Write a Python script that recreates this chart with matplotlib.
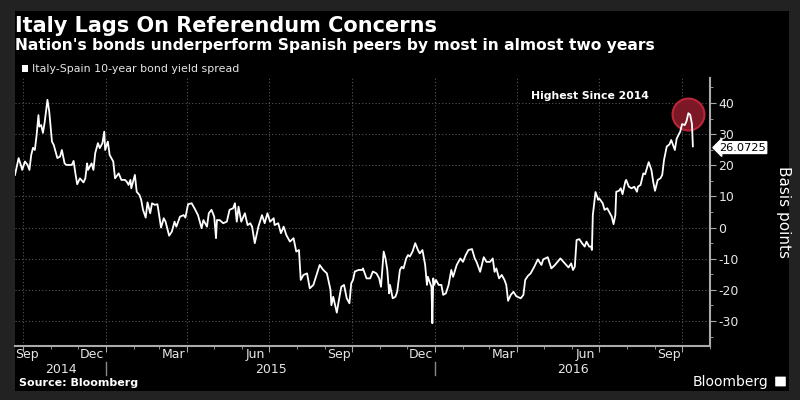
import numpy as np
import pandas as pd
import matplotlib
matplotlib.use("Agg")
import matplotlib.pyplot as plt
import matplotlib.dates as mdates
from matplotlib.patches import Rectangle, FancyBboxPatch
from matplotlib.lines import Line2D
from matplotlib.ticker import MultipleLocator
from matplotlib.transforms import blended_transform_factory

plt.rcParams["axes.unicode_minus"] = False

# Italy-Spain 10-year bond yield spread, basis points
dates = [
    "2014-09-22", "2014-09-26", "2014-09-29", "2014-09-30", "2014-10-03", "2014-10-06",
    "2014-10-08", "2014-10-10", "2014-10-12", "2014-10-14", "2014-10-16", "2014-10-18",
    "2014-10-19", "2014-10-21", "2014-10-23", "2014-10-25", "2014-10-28", "2014-10-30",
    "2014-11-02", "2014-11-04", "2014-11-08", "2014-11-11", "2014-11-13", "2014-11-16",
    "2014-11-18", "2014-11-24", "2014-11-26", "2014-11-28", "2014-11-30", "2014-12-03",
    "2014-12-07", "2014-12-09", "2014-12-11", "2014-12-12", "2014-12-14", "2014-12-16",
    "2014-12-18", "2014-12-20", "2014-12-23", "2014-12-25", "2014-12-28", "2014-12-30",
    "2014-12-31", "2015-01-03", "2015-01-05", "2015-01-09", "2015-01-11", "2015-01-15",
    "2015-01-18", "2015-01-22", "2015-01-24", "2015-01-26", "2015-01-28", "2015-01-29",
    "2015-01-31", "2015-02-02", "2015-02-04", "2015-02-07", "2015-02-09", "2015-02-11",
    "2015-02-14", "2015-02-16", "2015-02-19", "2015-02-21", "2015-02-24", "2015-02-27",
    "2015-02-28", "2015-03-03", "2015-03-06", "2015-03-08", "2015-03-12", "2015-03-15",
    "2015-03-18", "2015-03-20", "2015-03-24", "2015-03-28", "2015-03-30", "2015-04-02",
    "2015-04-06", "2015-04-10", "2015-04-13", "2015-04-15", "2015-04-17", "2015-04-19",
    "2015-04-23", "2015-04-25", "2015-04-28", "2015-05-01", "2015-05-03", "2015-05-04",
    "2015-05-07", "2015-05-11", "2015-05-15", "2015-05-18", "2015-05-22", "2015-05-24",
    "2015-05-26", "2015-05-28", "2015-05-31", "2015-06-04", "2015-06-07", "2015-06-10",
    "2015-06-12", "2015-06-15", "2015-06-19", "2015-06-23", "2015-06-26", "2015-06-29",
    "2015-07-02", "2015-07-06", "2015-07-07", "2015-07-11", "2015-07-14", "2015-07-17",
    "2015-07-20", "2015-07-24", "2015-07-28", "2015-07-31", "2015-08-03", "2015-08-05",
    "2015-08-08", "2015-08-12", "2015-08-15", "2015-08-19", "2015-08-23", "2015-08-26",
    "2015-08-30", "2015-09-03", "2015-09-07", "2015-09-08", "2015-09-10", "2015-09-14",
    "2015-09-16", "2015-09-19", "2015-09-22", "2015-09-25", "2015-09-28", "2015-09-30",
    "2015-10-02", "2015-10-04", "2015-10-08", "2015-10-12", "2015-10-13", "2015-10-17",
    "2015-10-21", "2015-10-24", "2015-10-28", "2015-10-31", "2015-11-02", "2015-11-05",
    "2015-11-07", "2015-11-09", "2015-11-11", "2015-11-12", "2015-11-15", "2015-11-18",
    "2015-11-20", "2015-11-23", "2015-11-25", "2015-11-27", "2015-11-30", "2015-12-02",
    "2015-12-04", "2015-12-07", "2015-12-10", "2015-12-13", "2015-12-15", "2015-12-18",
    "2015-12-21", "2015-12-23", "2015-12-24", "2015-12-28", "2015-12-29", "2015-12-30",
    "2015-12-31", "2016-01-02", "2016-01-05", "2016-01-08", "2016-01-10", "2016-01-13",
    "2016-01-16", "2016-01-19", "2016-01-21", "2016-01-25", "2016-01-29", "2016-02-01",
    "2016-02-04", "2016-02-07", "2016-02-11", "2016-02-14", "2016-02-16", "2016-02-20",
    "2016-02-24", "2016-02-27", "2016-03-02", "2016-03-05", "2016-03-07", "2016-03-09",
    "2016-03-12", "2016-03-15", "2016-03-18", "2016-03-20", "2016-03-22", "2016-03-25",
    "2016-03-28", "2016-03-31", "2016-04-05", "2016-04-08", "2016-04-10", "2016-04-13",
    "2016-04-16", "2016-04-20", "2016-04-24", "2016-04-28", "2016-04-30", "2016-05-05",
    "2016-05-09", "2016-05-13", "2016-05-19", "2016-05-24", "2016-05-28", "2016-05-31",
    "2016-06-02", "2016-06-04", "2016-06-06", "2016-06-09", "2016-06-12", "2016-06-15",
    "2016-06-17", "2016-06-20", "2016-06-22", "2016-06-23", "2016-06-24", "2016-06-27",
    "2016-06-30", "2016-07-01", "2016-07-05", "2016-07-07", "2016-07-10", "2016-07-13",
    "2016-07-15", "2016-07-17", "2016-07-19", "2016-07-20", "2016-07-23", "2016-07-25",
    "2016-07-27", "2016-07-30", "2016-07-31", "2016-08-03", "2016-08-06", "2016-08-09",
    "2016-08-12", "2016-08-13", "2016-08-16", "2016-08-19", "2016-08-21", "2016-08-25",
    "2016-08-28", "2016-08-30", "2016-09-01", "2016-09-04", "2016-09-07", "2016-09-09",
    "2016-09-11", "2016-09-14", "2016-09-17", "2016-09-19", "2016-09-21", "2016-09-23",
    "2016-09-25", "2016-09-27", "2016-09-29", "2016-10-01", "2016-10-04", "2016-10-06",
    "2016-10-08", "2016-10-10", "2016-10-12", "2016-10-13",
]
spread = [
    16.9, 22.3, 19.6, 18.5, 21.2, 20.1,
    18.5, 23.3, 25.6, 24.9, 29.7, 36.1,
    32.4, 32.9, 30.4, 34.0, 41.0, 37.2,
    27.6, 26.5, 22.3, 22.8, 24.9, 20.6,
    20.1, 20.1, 21.4, 17.4, 13.9, 15.8,
    14.5, 15.8, 20.6, 18.5, 19.6, 20.6,
    18.5, 23.9, 27.1, 25.5, 27.1, 30.8,
    24.9, 27.6, 23.3, 21.2, 15.8, 17.4,
    15.3, 15.3, 14.7, 13.7, 15.3, 12.6,
    14.7, 16.9, 11.5, 10.5, 8.9, 5.7,
    3.2, 8.1, 4.6, 7.8, 7.3, 7.5,
    5.7, 0.0, 3.0, 1.9, -2.6, -1.3,
    1.9, 0.3, 3.5, 4.0, 3.2, 7.5,
    7.8, 5.7, 4.0, 1.9, -0.2, 2.4,
    0.3, 4.6, 5.7, 3.5, -3.4, 2.4,
    2.4, 1.4, 1.9, 5.7, 6.2, 7.8,
    1.9, 6.7, 1.9, 4.6, 0.8, 1.4,
    0.3, -5.0, 0.3, 4.0, 1.4, 4.6,
    1.9, 3.0, 0.8, 1.4, -1.8, 0.3,
    -2.4, -4.5, -3.4, -7.7, -7.2, -16.8,
    -15.2, -14.7, -19.5, -18.4, -14.7, -12.0,
    -13.6, -14.7, -20.0, -24.9, -22.2, -27.3,
    -23.8, -19.0, -18.4, -22.7, -24.3, -17.9,
    -16.8, -14.1, -13.6, -13.6, -13.1, -16.3,
    -16.3, -14.1, -14.7, -16.3, -19.0, -7.7,
    -9.9, -13.6, -21.1, -18.4, -22.7, -22.2,
    -20.6, -13.6, -12.6, -13.1, -9.9, -8.8,
    -9.3, -7.7, -5.0, -7.2, -8.3, -7.2,
    -12.0, -18.4, -15.8, -19.0, -30.7, -16.3,
    -18.4, -16.8, -18.4, -18.4, -21.6, -21.1,
    -18.4, -13.6, -15.8, -12.0, -9.9, -11.0,
    -8.8, -7.2, -6.9, -9.9, -11.0, -14.2,
    -9.5, -11.0, -11.0, -9.9, -14.2, -13.1,
    -16.3, -15.2, -16.8, -18.4, -23.5, -21.6,
    -20.6, -22.0, -22.7, -21.6, -16.8, -15.5,
    -14.7, -12.6, -10.2, -12.0, -10.2, -9.5,
    -13.1, -12.0, -9.9, -11.5, -12.8, -11.5,
    -13.6, -12.6, -4.0, -3.7, -5.0, -6.1,
    -4.5, -6.1, -6.1, -7.2, 4.0, 11.4,
    8.9, 9.4, 7.8, 5.7, 6.2, 4.6,
    3.5, 1.1, 4.0, 11.5, 11.8, 12.6,
    10.7, 14.7, 15.3, 13.1, 12.6, 13.1,
    11.5, 13.1, 13.7, 17.4, 17.1, 21.0,
    18.5, 14.7, 11.8, 15.3, 15.8, 16.9,
    21.7, 26.0, 26.7, 28.1, 26.5, 24.9,
    28.5, 29.7, 30.8, 33.2, 32.9, 34.2,
    36.7, 36.2, 33.2, 26.0725,
]

month_labels = ["Sep", "Dec", "Mar", "Jun", "Sep", "Dec", "Mar", "Jun", "Sep"]
month_starts = ["2014-09-01", "2014-12-01", "2015-03-01", "2015-06-01", "2015-09-01",
                "2015-12-01", "2016-03-01", "2016-06-01", "2016-09-01"]
years = [2014, 2015, 2016]
peak_date = "2016-10-08"
peak_value = 36.6
y_ticks = [-30, -20, -10, 0, 10, 20, 30, 40]

W, H = 800, 400
fig = plt.figure(figsize=(8, 4), dpi=100, facecolor="#222222")
fig.add_artist(Rectangle((15 / W, 9 / H), 774 / W, 380 / H, transform=fig.transFigure,
                         facecolor="black", edgecolor="none", zorder=-10))

ax = fig.add_axes([15 / W, 54 / H, 695 / W, 268 / H])
ax.set_facecolor("black")

x = pd.to_datetime(dates)
ax.plot(x, spread, color="white", lw=1.3, zorder=3)

# highlight of the peak
ax.plot(pd.to_datetime(peak_date), peak_value, "o", ms=23, mfc="#8B1A2A", mec="#C8283C",
        mew=1.5, alpha=0.9, zorder=2)

x0 = pd.Timestamp("2014-09-22")
x1 = pd.Timestamp("2016-11-01")
ax.set_xlim(x0, x1)
ax.set_ylim(-38, 48)

ax.xaxis.set_major_locator(mdates.MonthLocator(bymonth=[1, 4, 7, 10]))
ax.xaxis.set_minor_locator(mdates.MonthLocator())
ax.xaxis.set_major_formatter(plt.NullFormatter())
ax.yaxis.tick_right()
ax.set_yticks(y_ticks)
ax.yaxis.set_minor_locator(MultipleLocator(5))

ax.grid(True, which="major", color="#555555", linestyle=(0, (1, 2)), lw=0.8)
ax.set_axisbelow(True)
for s in ["top", "left"]:
    ax.spines[s].set_visible(False)
for s in ["bottom", "right"]:
    ax.spines[s].set_color("#aaaaaa")
    ax.spines[s].set_linewidth(1.5)
ax.tick_params(axis="both", which="major", length=4, color="#aaaaaa", labelcolor="#e6e6e6",
               labelsize=9, pad=2)
ax.tick_params(axis="both", which="minor", length=2.5, color="#aaaaaa")

# month and year labels
bt = blended_transform_factory(ax.transData, fig.transFigure)
for lab, ms in zip(month_labels, month_starts):
    start = pd.Timestamp(ms)
    end = start + pd.offsets.MonthBegin(1)
    mid = start + (end - start) / 2
    if mid < x0:
        ax.text(0.0, 1 - 358 / H, lab, transform=blended_transform_factory(ax.transAxes, fig.transFigure),
                ha="left", va="baseline", color="#e6e6e6", fontsize=9)
    else:
        ax.text(mid, 1 - 358 / H, lab, transform=bt, ha="center", va="baseline",
                color="#e6e6e6", fontsize=9)
for yr in years:
    a = max(pd.Timestamp(f"{yr}-01-01"), x0)
    b = min(pd.Timestamp(f"{yr + 1}-01-01"), x1)
    ax.text(a + (b - a) / 2, 1 - 373 / H, str(yr), transform=bt, ha="center", va="baseline",
            color="#e6e6e6", fontsize=9)
    if pd.Timestamp(f"{yr}-01-01") > x0:
        jan = mdates.date2num(pd.Timestamp(f"{yr}-01-01"))
        fig.add_artist(Line2D([jan, jan], [1 - 362 / H, 1 - 375 / H], transform=bt,
                              color="#888888", lw=1))

# value tag
ax.text(1.013, spread[-1] - 0.4, "26.0725", transform=blended_transform_factory(ax.transAxes, ax.transData),
        ha="left", va="center", fontsize=8.2, color="black", clip_on=False,
        bbox=dict(boxstyle="larrow,pad=0.08", fc="white", ec="white"))

fig.text(590 / W, 1 - 99 / H, "Highest Since 2014", ha="center",
         va="baseline", color="white", fontsize=7.8, fontweight="bold")

fig.text(783 / W, 1 - 212 / H, "Basis points", rotation=270, ha="center", va="center",
         color="white", fontsize=11)

# titles and legend
fig.text(15 / W, 1 - 32 / H, "Italy Lags On Referendum Concerns", color="white",
         fontsize=15, fontweight="bold", va="baseline")
fig.text(15 / W, 1 - 50 / H, "Nation's bonds underperform Spanish peers by most in almost two years",
         color="white", fontsize=11.2, fontweight="bold", va="baseline")
fig.add_artist(Rectangle((22 / W, 1 - 72 / H), 6 / W, 7 / H, transform=fig.transFigure,
                         facecolor="white", edgecolor="none"))
fig.text(32 / W, 1 - 71.5 / H, "Italy-Spain 10-year bond yield spread", color="#e6e6e6",
         fontsize=7.9, va="baseline")

fig.text(19 / W, 1 - 386 / H, "Source: Bloomberg", color="white", fontsize=8,
         fontweight="bold", va="baseline")
fig.text(768 / W, 1 - 386 / H, "Bloomberg", color="white", fontsize=10, ha="right", va="baseline")
fig.add_artist(FancyBboxPatch((776 / W, 1 - 386 / H), 9 / W, 9 / H, transform=fig.transFigure,
                              boxstyle="round,pad=0.001", facecolor="white", edgecolor="none"))

fig.savefig("out.png", dpi=100, facecolor=fig.get_facecolor())
